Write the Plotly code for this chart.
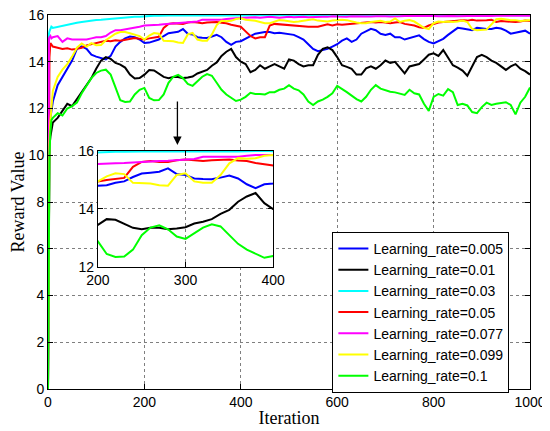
import plotly.graph_objects as go

# iteration grid (dense at the start, then every 10)
iteration = [0, 1, 2, 3, 5, 7] + list(range(10, 1001, 10))

labels = ['Learning_rate=0.005', 'Learning_rate=0.01', 'Learning_rate=0.03', 'Learning_rate=0.05',
          'Learning_rate=0.077', 'Learning_rate=0.099', 'Learning_rate=0.1']
colors = ['#0000FF', '#000000', '#00FFFF', '#FF0000', '#FF00FF', '#FFFF00', '#00FF00']

lr_0005 = [0, 7.0, 10.0, 10.8, 11.6, 11.9,
           12.3, 13.0, 13.35, 13.72, 14.05, 14.55, 14.66, 14.55, 14.3, 14.22,
           14.15, 14.1, 14.25, 14.65, 14.85, 15.0, 15.08, 15.05, 14.95, 14.8,
           14.82, 14.9, 14.95, 15.1, 15.22, 15.25, 15.28, 15.4, 15.2, 15.17,
           15.05, 15.03, 15.02, 15.08, 15.15, 15.05, 14.85, 14.72, 14.85, 14.88,
           15.0, 15.1, 15.2, 15.25, 15.27, 15.27, 15.22, 15.24, 15.22, 15.2,
           15.15, 15.05, 14.95, 14.75, 14.55, 14.45, 14.5, 14.55, 14.65, 14.75,
           14.9, 15.0, 14.85, 14.95, 15.2, 15.3, 15.41, 15.35, 15.2, 15.15,
           15.2, 15.05, 15.05, 14.95, 15.0, 15.08, 15.13, 14.97, 14.85, 14.78,
           14.88, 14.98, 15.15, 15.3, 15.45, 15.42, 15.38, 15.35, 15.45, 15.42,
           15.4, 15.4, 15.45, 15.42, 15.33, 15.2, 15.25, 15.27, 15.33, 15.2]

lr_001 = [0, 6.0, 9.5, 10.4, 10.8, 11.0,
          11.4, 11.6, 11.9, 12.2, 12.1, 12.4, 12.75, 13.0, 13.3, 13.7,
          14.05, 14.2, 14.12, 13.95, 13.88, 13.75, 13.45, 13.28, 13.3, 13.45,
          13.65, 13.63, 13.5, 13.35, 13.3, 13.35, 13.35, 13.3, 13.33, 13.37,
          13.5, 13.56, 13.65, 13.83, 13.97, 14.25, 14.43, 14.55, 14.2, 14.0,
          13.9, 13.55, 13.65, 13.85, 13.7, 13.8, 13.9, 13.8, 13.7, 14.1,
          14.05, 13.9, 13.8, 13.85, 13.85, 14.3, 14.55, 14.62, 14.5, 14.2,
          13.85, 13.78, 13.7, 13.45, 13.45, 13.72, 13.8, 13.7, 13.85, 14.05,
          13.95, 14.0, 13.75, 13.5, 13.8, 13.85, 13.9, 14.1, 14.3, 14.36,
          14.25, 14.5, 14.2, 13.85, 13.75, 13.62, 13.4, 13.8, 14.2, 14.3,
          14.2, 14.05, 13.95, 13.8, 13.65, 13.8, 13.9, 13.7, 13.6, 13.45]

lr_003 = [0, 13.0, 15.2, 15.3, 15.45, 15.5,
          15.45, 15.5, 15.55, 15.58, 15.62, 15.67, 15.7, 15.74, 15.77, 15.79,
          15.8, 15.82, 15.85, 15.87, 15.88, 15.9, 15.91, 15.92, 15.93, 15.95,
          15.96, 15.97, 15.97, 15.98, 15.98, 15.98, 15.99, 15.98, 15.99, 15.99,
          15.99, 15.98, 15.99, 16.0, 15.99, 15.98, 15.99, 15.99, 16.0, 15.99,
          15.98, 15.99, 16.0, 15.99, 15.99, 15.98, 15.99, 16.0, 15.99, 15.99,
          16.0, 15.99, 15.98, 15.99, 15.99, 16.0, 15.99, 15.98, 15.99, 16.0,
          15.99, 15.99, 16.0, 15.99, 15.98, 15.99, 15.99, 16.0, 15.99, 15.99,
          15.98, 15.99, 16.0, 15.99, 15.99, 15.98, 15.99, 16.0, 15.99, 15.99,
          16.0, 15.99, 15.99, 15.98, 15.99, 16.0, 15.99, 15.99, 15.98, 15.99,
          16.0, 15.99, 15.99, 15.98, 15.99, 16.0, 15.99, 15.99, 15.98, 15.99]

lr_005 = [0, 9.0, 13.0, 14.2, 14.8, 14.75,
          14.65, 14.6, 14.55, 14.58, 14.52, 14.55, 14.6, 14.7, 14.75, 14.82,
          14.88, 14.9, 14.88, 14.92, 14.9, 14.95, 15.0, 15.02, 14.98, 14.95,
          15.0, 15.03, 15.07, 15.45, 15.62, 15.65, 15.62, 15.62, 15.68, 15.7,
          15.68, 15.65, 15.68, 15.7, 15.7, 15.67, 15.65, 15.58, 15.53, 15.5,
          15.3, 15.1, 15.0, 15.05, 15.05, 15.55, 15.62, 15.6, 15.58, 15.55,
          15.55, 15.52, 15.5, 15.5, 15.5, 15.5, 15.55, 15.6, 15.55, 15.6,
          15.58, 15.6, 15.6, 15.62, 15.65, 15.68, 15.7, 15.68, 15.7, 15.68,
          15.65, 15.68, 15.7, 15.62, 15.6, 15.55, 15.48, 15.45, 15.55, 15.62,
          15.68, 15.7, 15.72, 15.75, 15.74, 15.78, 15.76, 15.8, 15.76, 15.76,
          15.78, 15.8, 15.7, 15.74, 15.72, 15.72, 15.7, 15.72, 15.76, 15.74]

lr_0077 = [0, 12.0, 15.0, 15.05, 15.1, 15.0,
           15.05, 15.1, 14.85, 15.0, 14.95, 14.95, 14.95, 14.95, 15.0, 15.05,
           15.05, 15.1, 15.25, 15.35, 15.35, 15.38, 15.42, 15.45, 15.5, 15.55,
           15.55, 15.57, 15.58, 15.6, 15.62, 15.65, 15.65, 15.66, 15.68, 15.7,
           15.72, 15.8, 15.8, 15.78, 15.8, 15.8, 15.83, 15.86, 15.86, 15.87,
           15.88, 15.9, 15.9, 15.88, 15.9, 15.92, 15.9, 15.88, 15.9, 15.92,
           15.9, 15.92, 15.93, 15.9, 15.92, 15.94, 15.93, 15.92, 15.95, 15.94,
           15.92, 15.93, 15.95, 15.94, 15.96, 15.95, 15.94, 15.95, 15.96, 15.95,
           15.94, 15.93, 15.95, 15.96, 15.95, 15.94, 15.96, 15.97, 15.95, 15.96,
           15.95, 15.96, 15.97, 15.96, 15.95, 15.96, 15.97, 15.96, 15.97, 15.96,
           15.95, 15.96, 15.97, 15.97, 15.96, 15.97, 15.96, 15.97, 15.96, 15.97]

lr_0099 = [0, 5.0, 9.0, 10.5, 11.5, 12.2,
           12.75, 13.35, 13.66, 13.9, 14.22, 14.6, 14.78, 14.64, 14.8, 14.71,
           14.72, 14.92, 15.05, 15.2, 15.27, 15.27, 15.22, 15.17, 15.1, 14.95,
           15.12, 15.23, 15.2, 14.9, 14.88, 14.88, 14.82, 14.8, 15.17, 15.23,
           14.95, 14.9, 14.9, 15.17, 15.57, 15.75, 15.73, 15.75, 15.83, 15.86,
           15.8, 15.78, 15.75, 15.7, 15.65, 15.65, 15.72, 15.78, 15.76, 15.72,
           15.7, 15.72, 15.75, 15.78, 15.82, 15.76, 15.75, 15.72, 15.76, 15.78,
           15.8, 15.78, 15.72, 15.68, 15.65, 15.65, 15.7, 15.72, 15.75, 15.7,
           15.72, 15.85, 15.7, 15.75, 15.78, 15.72, 15.6, 15.45, 15.4, 15.65,
           15.72, 15.7, 15.72, 15.7, 15.72, 15.76, 15.7, 15.4, 15.35, 15.35,
           15.38, 15.6, 15.82, 15.84, 15.8, 15.78, 15.78, 15.74, 15.76, 15.78]

lr_01 = [0, 5.0, 8.5, 10.0, 11.0, 11.5,
         11.6, 11.8, 11.7, 12.0, 12.1, 12.25, 12.65, 13.0, 13.3, 13.52,
         13.62, 13.66, 13.45, 12.9, 12.35, 12.28, 12.3, 12.6, 12.8, 12.88,
         12.45, 12.35, 12.36, 12.6, 13.1, 13.36, 13.44, 13.3, 13.05, 12.97,
         13.15, 13.36, 13.47, 13.4, 13.1, 12.8, 12.6, 12.45, 12.32, 12.38,
         12.5, 12.67, 12.62, 12.62, 12.6, 12.7, 12.7, 12.8, 12.85, 13.0,
         12.85, 12.78, 12.6, 12.3, 12.15, 12.3, 12.38, 12.5, 12.65, 12.97,
         12.85, 12.7, 12.55, 12.4, 12.3, 12.5, 12.8, 13.0, 12.85, 12.78,
         12.72, 12.69, 12.64, 12.58, 12.8, 12.65, 12.6, 12.2, 11.9, 12.5,
         12.62, 12.55, 12.83, 12.7, 12.15, 12.2, 12.13, 11.85, 11.8, 12.06,
         12.25, 12.15, 12.2, 12.22, 12.27, 12.15, 11.75, 12.25, 12.5, 12.9]

series = [lr_0005, lr_001, lr_003, lr_005, lr_0077, lr_0099, lr_01]

fig = go.Figure()
for name, color, values in zip(labels, colors, series):
    fig.add_trace(go.Scatter(x=iteration, y=values, name=name, mode='lines',
                             line=dict(color=color, width=2)))
# zoomed copy in the inset
for name, color, values in zip(labels, colors, series):
    fig.add_trace(go.Scatter(x=iteration, y=values, name=name, mode='lines', showlegend=False,
                             line=dict(color=color, width=2), xaxis='x2', yaxis='y2'))

axis_style = dict(showline=True, linecolor='black', linewidth=1, mirror='ticks',
                  ticks='inside', ticklen=5, tickcolor='black', automargin=False,
                  ticklabeloverflow='allow',
                  showgrid=True, gridcolor='rgba(0,0,0,0.5)', griddash='dot', gridwidth=1,
                  zeroline=False, tickfont=dict(family='Liberation Sans, Arial', size=14, color='black'))

# the page body adds an 8px offset, so the figure is sized 8px smaller
fig.update_layout(
    width=542
    , height=423
    , margin=dict(l=40, r=20, t=7, b=42, autoexpand=False)
    , paper_bgcolor='white'
    , plot_bgcolor='white'
    , xaxis=dict(range=[0, 1000], tickvals=[0, 200, 400, 600, 800, 1000],
                 title=dict(text='Iteration', standoff=2,
                            font=dict(family='Liberation Serif, Times New Roman', size=18, color='black')),
                 **axis_style)
    , yaxis=dict(range=[0, 16], tickvals=[0, 2, 4, 6, 8, 10, 12, 14, 16],
                 title=dict(text='Reward Value', standoff=0,
                            font=dict(family='Liberation Serif, Times New Roman', size=18, color='black')),
                 **axis_style)
    , xaxis2=dict(domain=[0.1036, 0.467], anchor='y2', range=[200, 400], tickvals=[200, 300, 400], **axis_style)
    , yaxis2=dict(domain=[0.326, 0.6367], anchor='x2', range=[12, 16], tickvals=[12, 14, 16], **axis_style)
    , legend=dict(x=0.59, y=0.420, xanchor='left', yanchor='top',
                  bgcolor='white', bordercolor='black', borderwidth=1,
                  font=dict(family='Liberation Sans, Arial', size=14, color='black'))
    , showlegend=True
)

fig.add_annotation(x=0.2685, y=0.6527, xref='paper', yref='paper', text='', showarrow=True,
                   ax=0, ay=-45, arrowhead=2, arrowsize=1.3, arrowwidth=1.3, arrowcolor='black')

fig.write_html("out.html")
